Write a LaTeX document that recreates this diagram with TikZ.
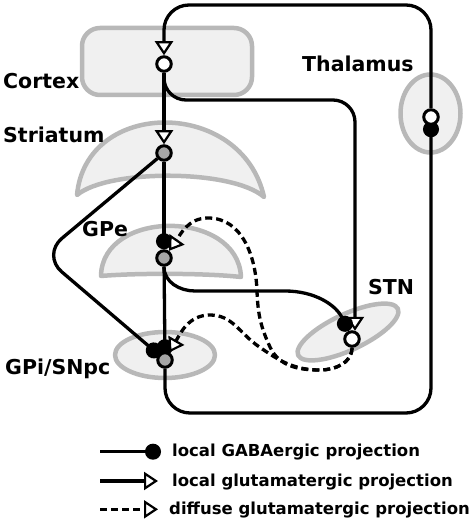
\documentclass[tikz,border=0pt]{standalone}
\usepackage{fontspec}
\setmainfont{DejaVu Sans}
\usetikzlibrary{arrows.meta}
\pgfdeclarelayer{regions}
\pgfdeclarelayer{wires}
\pgfsetlayers{regions,wires,main}
\begin{document}
\begin{tikzpicture}[
        x=1pt, y=1pt,
        neuron/.style={circle,draw,line width=3pt,minimum size=14.5pt,inner sep=0pt,fill=white},
        gneuron/.style={neuron,fill=black!35},
        region/.style={draw=black!28,fill=black!6,line width=4.5pt,line join=round},
        gaba/.style={line width=3.3pt,-{Circle[length=16pt]}},
        glut/.style={line width=3.3pt,-{Triangle[length=14pt,width=18pt,fill=white,line width=2.2pt 0]}},
        diffuse/.style={glut,dash pattern=on 7pt off 4pt},
        lbl/.style={font=\fontsize{20.5}{24}\selectfont\bfseries,inner sep=0pt,anchor=base west},
        key/.style={font=\fontsize{16.5}{19}\selectfont\bfseries,inner sep=0pt,anchor=base west}
    ]
        \useasboundingbox (0,0) rectangle (474,523);

        % brain regions
        \begin{pgfonlayer}{regions}
        \draw[region,rounded corners=18pt] (82,428) rectangle (252,495);
        \draw[region] (77,328) .. controls (86,425) and (242,425) .. (264,326)
            .. controls (232,354) and (108,354) .. cycle;
        \draw[region] (101,247) .. controls (102,314) and (238,314) .. (241,246)
            .. controls (205,250) and (135,250) .. cycle;
        \draw[region] (165,168) ellipse [x radius=50, y radius=23];
        \draw[region,rotate around={25:(348,191)}] (348,191) ellipse [x radius=55, y radius=18];
        \draw[region] (430.5,409.5) ellipse [x radius=30, y radius=39];
        \end{pgfonlayer}

        \node[lbl] (LCTX) at (3,434) {Cortex};
        \node[lbl] (LSTR) at (3,380) {Striatum};
        \node[lbl] (LGPE) at (82,286) {GPe};
        \node[lbl] (LGPI) at (5,148) {GPi/SNpc};
        \node[lbl] (LTHL) at (302,451) {Thalamus};
        \node[lbl] (LSTN) at (368,228) {STN};

        % neurons
        \node[neuron] (CTX) at (164,459) {};
        \node[gneuron] (STR) at (164,370) {};
        \node[gneuron] (GPE) at (164,265) {};
        \node[gneuron] (GPI) at (165,163) {};
        \node[neuron] (STN) at (352,184) {};
        \node[neuron] (THL) at (431,406) {};

        % projections
        \begin{pgfonlayer}{wires}
        \draw[glut,rounded corners=25pt] (THL.north) |- (CTX.north |- 0,518) -- (CTX.north);
        \draw[glut] (CTX) -- (STR);
        \draw[glut,rounded corners=22pt] (CTX.south) |- (STN.70 |- 0,423) -- (STN.70);
        \draw[gaba] (STR) -- (GPE);
        \draw[gaba,rounded corners=26pt,shorten >=-2pt] (STR) -- (42,268) -- (GPI);
        \draw[gaba,shorten >=-4pt] (GPE) -- (GPI);
        \draw[gaba] (GPE.south) to[out=-90,in=180] (195,232) -- (285,232) to[out=0,in=115] (STN);
        \draw[gaba,rounded corners=25pt,shorten >=-4.5pt] (GPI.south) |- (THL.south |- 0,110) -- (THL.south);
        \draw[diffuse] (STN.south) to[out=-90,in=0] (320,153) to[out=180,in=-65] (270,176)
            to[out=115,in=-88] (257,232) to[out=92,in=0] (208,305) to[out=180,in=55] (GPE);
        \draw[diffuse] (STN.south) to[out=-90,in=0] (320,153) to[out=180,in=-35] (258,177)
            to[out=145,in=0] (210,208) to[out=180,in=60] (GPI);
        \end{pgfonlayer}

        % legend
        \coordinate (K1) at (100,71.3);
        \coordinate (K1e) at (161,71.3);
        \coordinate (K2) at (100,42);
        \coordinate (K2e) at (158,42);
        \coordinate (K3) at (100,13.7);
        \coordinate (K3e) at (158,13.7);
        \draw[gaba] (K1) -- (K1e);
        \draw[glut] (K2) -- (K2e);
        \draw[diffuse] (K3) -- (K3e);
        \node[key] (T1) at (172,66) {local GABAergic projection};
        \node[key] (T2) at (172,37) {local glutamatergic projection};
        \node[key] (T3) at (169,9) {diffuse glutamatergic projection};
\end{tikzpicture}
\end{document}
